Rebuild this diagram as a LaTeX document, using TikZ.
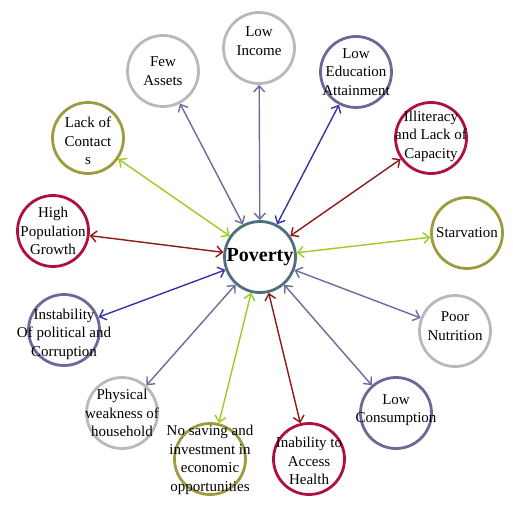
\documentclass[tikz,border=0pt]{standalone}
\usepackage{fontspec}
\setmainfont{Liberation Serif}
\usetikzlibrary{arrows.meta}
\definecolor{povring}{HTML}{4F6F7F}
\definecolor{greyring}{HTML}{B9B9B9}
\definecolor{slatering}{HTML}{6A6A98}
\definecolor{redring}{HTML}{B0103E}
\definecolor{oliring}{HTML}{9C9C3E}
\definecolor{slatearrow}{HTML}{6B6B9D}
\definecolor{bluearrow}{HTML}{3535A2}
\definecolor{redarrow}{HTML}{8E1818}
\definecolor{greenarrow}{HTML}{9ACC22}
\begin{document}
\begin{tikzpicture}[x=1pt,y=-1pt,
    bubble/.style={circle,draw=#1,line width=2.8pt,minimum size=71pt,inner sep=0pt},
    txt/.style={align=center,inner sep=0pt,font=\fontsize{15}{18.5}\selectfont},
    link/.style={draw=#1,line width=1.4pt,{Straight Barb[length=6pt,width=11pt]}-{Straight Barb[length=6pt,width=11pt]}}]
  \useasboundingbox (0,0) rectangle (513,505);
  % centre
  \node[bubble=povring] (pov) at (260,257) {};
  \node[txt,font=\fontsize{20}{22}\selectfont\bfseries] (povt) at (pov) {Poverty};
  % outer ring
  \node[bubble=greyring] (few) at (163,71) {};
  \node[bubble=greyring] (inc) at (259,48) {};
  \node[bubble=slatering] (edu) at (356,72) {};
  \node[bubble=redring] (ill) at (431,138) {};
  \node[bubble=oliring] (starv) at (467,233) {};
  \node[bubble=greyring] (nutr) at (455,331) {};
  \node[bubble=slatering] (cons) at (396,413) {};
  \node[bubble=redring] (heal) at (309,459) {};
  \node[bubble=oliring] (save) at (210,459) {};
  \node[bubble=greyring] (phys) at (122,413) {};
  \node[bubble=slatering] (inst) at (64,330) {};
  \node[bubble=redring] (popg) at (53,231) {};
  \node[bubble=oliring] (cont) at (88,138) {};
  % texts
  \node[txt] (fewt) at (few) {Few\\Assets};
  \node[txt] (inct) at ([yshift=7pt]inc.center) {Low\\Income};
  \node[txt] (edut) at (edu) {Low\\Education\\Attainment};
  \node[txt] (illt) at ([yshift=2pt]ill.center) {Illiteracy\\and Lack of\\Capacity};
  \node[txt] (starvt) at (starv) {Starvation};
  \node[txt] (nutrt) at ([yshift=5pt]nutr.center) {Poor\\Nutrition};
  \node[txt] (const) at ([yshift=3pt]cons.center) {Low\\Consumption};
  \node[txt] (healt) at ([yshift=-2pt]heal.center) {Inability to\\Access\\Health};
  \node[txt] (savet) at ([yshift=-1pt]save.center) {No saving and\\investment in\\economic\\opportunities};
  \node[txt] (physt) at (phys) {Physical\\weakness of\\household};
  \node[txt] (instt) at ([yshift=-4pt]inst.center) {Instability\\Of political and\\Corruption};
  \node[txt] (popgt) at (popg) {High\\Population\\Growth};
  \node[txt] (contt) at ([yshift=-3pt]cont.center) {Lack of\\Contact\\s};
  % connectors
  \draw[link=slatearrow] (pov) -- (few);
  \draw[link=slatearrow] (pov) -- (inc);
  \draw[link=bluearrow] (pov) -- (edu);
  \draw[link=redarrow] (pov) -- (ill);
  \draw[link=greenarrow] (pov) -- (starv);
  \draw[link=slatearrow] (pov) -- (nutr);
  \draw[link=slatearrow] (pov) -- (cons);
  \draw[link=redarrow] (pov) -- (heal);
  \draw[link=greenarrow] (pov) -- (save);
  \draw[link=slatearrow] (pov) -- (phys);
  \draw[link=bluearrow] (pov) -- (inst);
  \draw[link=redarrow] (pov) -- (popg);
  \draw[link=greenarrow] (pov) -- (cont);
\end{tikzpicture}
\end{document}
